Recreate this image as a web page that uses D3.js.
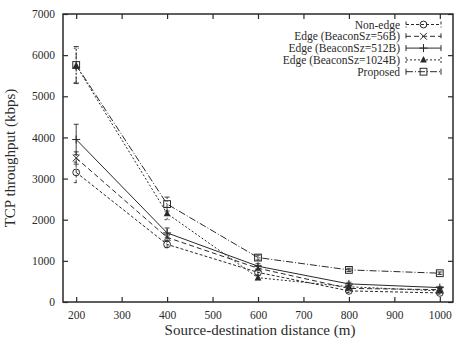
<!DOCTYPE html>
<html>
<head>
<meta charset="utf-8">
<script src="https://cdn.jsdelivr.net/npm/d3@7"></script>
<style>
  html, body { margin: 0; padding: 0; background: #fff; }
  svg { display: block; }
</style>
</head>
<body>
<svg id="chart" width="474" height="338"></svg>
<script>
// Source-destination distance (m)
const distances = [200, 400, 600, 800, 1000];

// TCP throughput (kbps) per scheme
const nonEdge   = [3150, 1400, 720, 270, 220];
const edge56    = [3500, 1570, 820, 330, 300];
const edge512   = [3950, 1680, 870, 440, 350];
const edge1024  = [5750, 2150, 590, 370, 270];
const proposed  = [5760, 2380, 1080, 780, 700];

// half-width of the error bars (kbps)
const nonEdgeErr  = [250, 80, 60, 40, 30];
const edge56Err   = [150, 80, 60, 40, 30];
const edge512Err  = [370, 120, 60, 40, 30];
const edge1024Err = [420, 150, 50, 40, 30];
const proposedErr = [450, 170, 60, 40, 30];

const seriesNames = [
  "Non-edge",
  "Edge (BeaconSz=56B)",
  "Edge (BeaconSz=512B)",
  "Edge (BeaconSz=1024B)",
  "Proposed"
];

const yTicks = [0, 1000, 2000, 3000, 4000, 5000, 6000, 7000];
const xTicks = [200, 300, 400, 500, 600, 700, 800, 900, 1000];

const series = [
  { name: seriesNames[0], values: nonEdge,  err: nonEdgeErr,  dash: "3,2",     marker: "circle" },
  { name: seriesNames[1], values: edge56,   err: edge56Err,   dash: "5,3",     marker: "cross" },
  { name: seriesNames[2], values: edge512,  err: edge512Err,  dash: null,      marker: "plus" },
  { name: seriesNames[3], values: edge1024, err: edge1024Err, dash: "2,2",     marker: "triangle" },
  { name: seriesNames[4], values: proposed, err: proposedErr, dash: "7,2,1,2", marker: "square" }
];

const FONT = "Liberation Serif, Times New Roman, Times, DejaVu Serif, serif";
const svg = d3.select("#chart");
const W = 474, H = 338;
const m = { left: 63, right: W - 453, top: 14, bottom: H - 302 };
const ink = "#2a2a2a";

svg.append("rect").attr("width", W).attr("height", H).attr("fill", "#fff");

const x = d3.scaleLinear().domain([171, 1029]).range([m.left, W - m.right]);
const y = d3.scaleLinear().domain([0, 7000]).range([H - m.bottom, m.top]);

// tick marks on all four sides, pointing inward
const tickLen = 5;
const gx = svg.append("g").attr("transform", `translate(0,${y(0)})`)
  .call(d3.axisBottom(x).tickValues(xTicks).tickSize(-tickLen).tickPadding(9).tickFormat(d3.format("d")));
const gxTop = svg.append("g").attr("transform", `translate(0,${y(7000)})`)
  .call(d3.axisTop(x).tickValues(xTicks).tickSize(-tickLen).tickFormat(""));
const gy = svg.append("g").attr("transform", `translate(${x.range()[0]},0)`)
  .call(d3.axisLeft(y).tickValues(yTicks).tickSize(-tickLen).tickPadding(8).tickFormat(d3.format("d")));
const gyR = svg.append("g").attr("transform", `translate(${x.range()[1]},0)`)
  .call(d3.axisRight(y).tickValues(yTicks).tickSize(-tickLen).tickFormat(""));

[gx, gxTop, gy, gyR].forEach(g => {
  g.attr("font-family", FONT).attr("font-size", 11.5);
  g.select(".domain").remove();
  g.selectAll(".tick line").attr("stroke", ink).attr("stroke-width", 1.2);
  g.selectAll(".tick text").attr("fill", ink);
});

// frame
svg.append("rect")
  .attr("x", x.range()[0]).attr("y", y(7000))
  .attr("width", x.range()[1] - x.range()[0]).attr("height", y(0) - y(7000))
  .attr("fill", "none").attr("stroke", ink).attr("stroke-width", 1.5);

// axis titles
svg.append("text")
  .attr("x", (x.range()[0] + x.range()[1]) / 2 + 2).attr("y", 335)
  .attr("text-anchor", "middle").attr("font-family", FONT).attr("font-size", 15).attr("fill", ink)
  .text("Source-destination distance (m)");
svg.append("text")
  .attr("transform", `translate(15,${(y(0) + y(7000)) / 2}) rotate(-90)`)
  .attr("text-anchor", "middle").attr("font-family", FONT).attr("font-size", 15).attr("fill", ink)
  .text("TCP throughput (kbps)");

function drawMarker(g, kind, cx, cy) {
  const s = 3.4;
  const apply = (sel) => sel.attr("stroke", ink).attr("stroke-width", 1);
  if (kind === "circle") {
    apply(g.append("circle").attr("cx", cx).attr("cy", cy).attr("r", s).attr("fill", "none"));
  } else if (kind === "cross") {
    apply(g.append("path").attr("d", `M${cx - s},${cy - s}L${cx + s},${cy + s}M${cx - s},${cy + s}L${cx + s},${cy - s}`).attr("fill", "none"));
  } else if (kind === "plus") {
    apply(g.append("path").attr("d", `M${cx - s - 0.6},${cy}L${cx + s + 0.6},${cy}M${cx},${cy - s - 0.6}L${cx},${cy + s + 0.6}`).attr("fill", "none"));
  } else if (kind === "triangle") {
    g.append("path").attr("d", `M${cx},${cy - s - 0.5}L${cx + s},${cy + s * 0.8}L${cx - s},${cy + s * 0.8}Z`).attr("fill", ink);
  } else if (kind === "square") {
    apply(g.append("rect").attr("x", cx - s).attr("y", cy - s).attr("width", 2 * s).attr("height", 2 * s).attr("fill", "none"));
  }
}

const line = d3.line().x(d => x(d.x)).y(d => y(d.y));
const plot = svg.append("g");

series.forEach(s => {
  const pts = distances.map((d, i) => ({ x: d, y: s.values[i], e: s.err[i] }));
  const g = plot.append("g");
  // error bars
  pts.forEach(p => {
    const cap = 2.5;
    const eb = g.append("path")
      .attr("d", `M${x(p.x)},${y(p.y - p.e)}L${x(p.x)},${y(p.y + p.e)}` +
                 `M${x(p.x) - cap},${y(p.y - p.e)}L${x(p.x) + cap},${y(p.y - p.e)}` +
                 `M${x(p.x) - cap},${y(p.y + p.e)}L${x(p.x) + cap},${y(p.y + p.e)}`)
      .attr("fill", "none").attr("stroke", ink).attr("stroke-width", 0.9);
    if (s.dash) eb.attr("stroke-dasharray", s.dash);
  });
  const path = g.append("path").datum(pts).attr("d", line)
    .attr("fill", "none").attr("stroke", ink).attr("stroke-width", 1);
  if (s.dash) path.attr("stroke-dasharray", s.dash);
  pts.forEach(p => drawMarker(g, s.marker, x(p.x), y(p.y)));
});

// legend
const legend = svg.append("g");
const rowY = [24.5, 36.3, 48.1, 59.9, 71.7];
series.forEach((s, i) => {
  const ly = rowY[i];
  legend.append("text").attr("x", 400).attr("y", ly + 4)
    .attr("text-anchor", "end").attr("font-family", FONT).attr("font-size", 11.5).attr("fill", ink).text(s.name);
  const x0 = 406, x1 = 441;
  const ln = legend.append("path")
    .attr("d", `M${x0},${ly}L${x1},${ly}M${x0},${ly - 3}L${x0},${ly + 3}M${x1},${ly - 3}L${x1},${ly + 3}`)
    .attr("fill", "none").attr("stroke", ink).attr("stroke-width", 1);
  if (s.dash) ln.attr("stroke-dasharray", s.dash);
  drawMarker(legend, s.marker, (x0 + x1) / 2, ly);
});
</script>
</body>
</html>
